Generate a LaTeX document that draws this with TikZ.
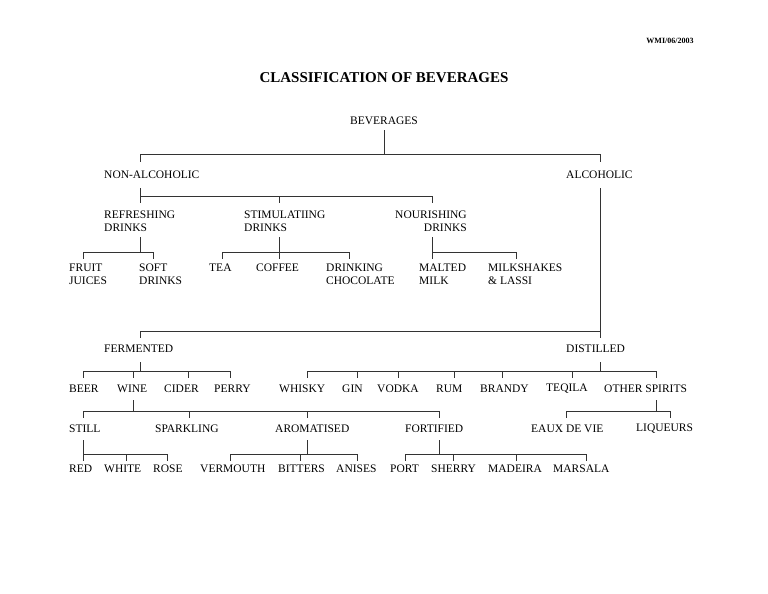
\documentclass[tikz,border=0pt]{standalone}
\usepackage{fontspec}
\setmainfont{Liberation Serif}
\tikzset{lbl/.style={anchor=west,inner sep=0pt,font=\fontsize{11.5}{13}\selectfont,align=left},
 ln/.style={line width=0.8pt,draw=black!80}}
\begin{document}
\begin{tikzpicture}[x=1pt,y=-1pt]
\useasboundingbox (0,0) rectangle (768,594);
\node[inner sep=0,font=\fontsize{8}{9}\selectfont\bfseries] (wmi) at (670,41) {WMI/06/2003};
\node[inner sep=0,font=\fontsize{15}{17}\selectfont\bfseries] (title) at (384,78) {CLASSIFICATION OF BEVERAGES};
\node[inner sep=0,font=\fontsize{11.5}{13}\selectfont] (bev) at (384,121) {BEVERAGES};
\node[lbl] (non) at (104,175) {NON-ALCOHOLIC};
\node[lbl] (alc) at (566,175) {ALCOHOLIC};
\node[lbl] (ref) at (104,221.5) {REFRESHING\\DRINKS};
\node[lbl] (sti) at (244,221.5) {STIMULATIING\\DRINKS};
\node[lbl,align=right] (nou) at (395,221.5) {NOURISHING\\DRINKS};
\node[lbl] (fru) at (69,274.5) {FRUIT\\JUICES};
\node[lbl] (sof) at (139,274.5) {SOFT\\DRINKS};
\node[lbl] (tea) at (209,268) {TEA};
\node[lbl] (cof) at (256,268) {COFFEE};
\node[lbl] (dri) at (326,274.5) {DRINKING\\CHOCOLATE};
\node[lbl] (mal) at (419,274.5) {MALTED\\MILK};
\node[lbl] (mil) at (488,274.5) {MILKSHAKES\\\& LASSI};
\node[lbl] (fer) at (104,349) {FERMENTED};
\node[lbl] (dis) at (566,349) {DISTILLED};
\foreach \n/\x/\t in {beer/69/BEER,wine/117/WINE,cider/164/CIDER,perry/214/PERRY,whi/279/WHISKY,gin/342/GIN,vod/377/VODKA,rum/436/RUM,bra/480/BRANDY,teq/546/TEQILA,oth/604/OTHER SPIRITS}
  \node[lbl] (\n) at (\x,389) {\t};
\foreach \n/\x/\t in {still/69/STILL,spa/155/SPARKLING,aro/275/AROMATISED,for/405/FORTIFIED,eau/531/EAUX DE VIE,liq/636/LIQUEURS}
  \node[lbl] (\n) at (\x,429) {\t};
\foreach \n/\x/\t in {red/69/RED,whit/104/WHITE,rose/153/ROSE,ver/200/VERMOUTH,bit/278/BITTERS,ani/336/ANISES,port/390/PORT,she/431/SHERRY,mad/488/MADEIRA,mar/553/MARSALA}
  \node[lbl] (\n) at (\x,469) {\t};
% connectors: parent x, top y, bar y, tick end y, list of child x
\newcommand{\tree}[5]{\draw[ln] (#1,#2) -- (#1,#3);
  \foreach \c in {#5} \draw[ln] (\c,#3) -- (\c,#4);
  \draw[ln] ({min(#1,#5)},#3) -- ({max(#1,#5)},#3);}
\tree{384}{130}{154}{162}{140,600}
\tree{140}{188}{196}{203}{140,279,432}
\tree{140}{237}{252}{259}{83,153}
\tree{279}{237}{252}{259}{222,279,349}
\tree{432}{237}{252}{259}{432,516}
\tree{600}{188}{331}{338}{140}
\draw[ln] (600,331) -- (600,338);
\tree{140}{362}{371}{378}{83,133,188,230}
\tree{600}{362}{371}{378}{307,357,398,454,502,572,656}
\tree{133}{400}{411}{418}{83,189,307,439}
\tree{656}{400}{411}{418}{566,670}
\tree{83}{440}{454}{461}{83,126,167}
\tree{307}{440}{454}{461}{230,300,357}
\tree{439}{440}{454}{461}{405,453,516,586}
\end{tikzpicture}
\end{document}
